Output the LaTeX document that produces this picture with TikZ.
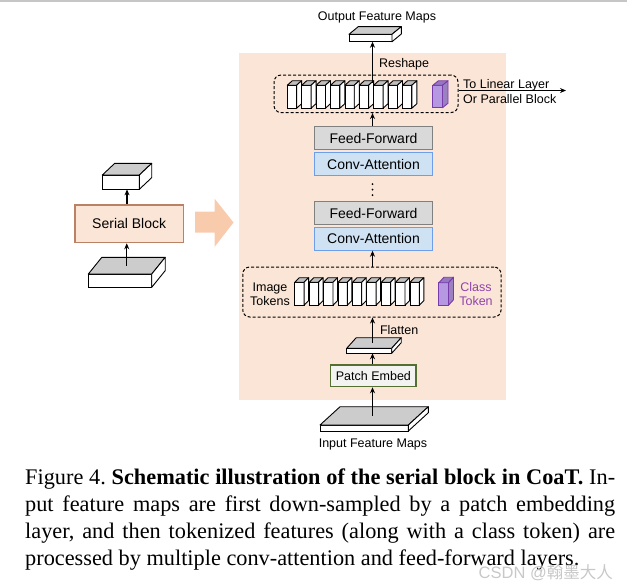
\documentclass[tikz,border=0pt]{standalone}
\usepackage{fontspec}
\setmainfont{Liberation Serif}
\newfontfamily\diafont{Liberation Sans}
\newfontfamily\cjkfont{Noto Sans CJK SC}
\usetikzlibrary{arrows.meta, positioning, calc}
\definecolor{peachbg}{RGB}{251,229,214}
\definecolor{bigarrow}{RGB}{248,203,173}
\definecolor{sbedge}{RGB}{185,130,100}
\definecolor{fffill}{RGB}{217,217,217}
\definecolor{ffedge}{RGB}{128,128,128}
\definecolor{cafill}{RGB}{207,226,243}
\definecolor{caedge}{RGB}{109,158,235}
\definecolor{pefill}{RGB}{243,243,241}
\definecolor{peedge}{RGB}{85,110,50}
\definecolor{slabgray}{RGB}{204,204,204}
\definecolor{tokgray}{RGB}{190,190,190}
\definecolor{clsfront}{RGB}{182,152,226}
\definecolor{clstop}{RGB}{150,120,192}
\definecolor{clsedge}{RGB}{120,60,170}
\definecolor{clstext}{RGB}{142,68,173}
\definecolor{wmgray}{RGB}{200,200,200}
% top and right faces of a box whose front face is a node
\newcommand{\boxfaces}[5]{%
  \draw[#4] (#1.north west) -- ++(#2,#3) -- ($(#1.north east)+(#2,#3)$) -- (#1.north east) -- cycle;
  \draw[#5] (#1.north east) -- ++(#2,#3) -- ($(#1.south east)+(#2,#3)$) -- (#1.south east) -- cycle;
  \coordinate (#1-top) at ($(#1.north)+(0.5*#2,0.5*#3)$);
}

\begin{document}
\begin{tikzpicture}[x=1pt, y=-1pt,
    lbl/.style={font=\diafont\fontsize{12.5}{14}\selectfont, inner sep=0pt},
    layer/.style={draw, line width=1.2pt, minimum width=118pt, minimum height=22.6pt, inner sep=0pt, font=\diafont\fontsize{14}{16}\selectfont},
    ffbox/.style={layer, fill=fffill, draw=ffedge},
    cabox/.style={layer, fill=cafill, draw=caedge},
    slabfront/.style={draw, fill=white, line width=0.9pt, inner sep=0pt, outer sep=0pt},
    slabtop/.style={draw, fill=slabgray, line width=0.9pt, line join=round},
    slabside/.style={draw, fill=white, line width=0.9pt, line join=round},
    token/.style={slabfront, minimum width=9.3pt, minimum height=23pt},
    tokentop/.style={draw, fill=tokgray, line width=0.9pt, line join=round},
    ctoken/.style={draw=clsedge, fill=clsfront, line width=0.9pt, inner sep=0pt, outer sep=0pt, minimum width=9.6pt, minimum height=22.5pt},
    ctop/.style={draw=clsedge, fill=clstop, line width=0.9pt, line join=round},
    cside/.style={draw=clsedge, fill=clsfront!85!black, line width=0.9pt, line join=round},
    tokbox/.style={draw, dash pattern=on 3pt off 2pt, line width=1pt, rounded corners=7pt, inner sep=0pt},
    arr/.style={-{Stealth[length=6pt,width=5pt]}, line width=1.1pt},
    ]
    \useasboundingbox (0,0) rectangle (627,587);

    % thin rule at the top
    \draw[gray!45, line width=1.5pt] (0,0.8) -- (627,0.8);

    % background panel of the serial block
    \fill[peachbg] (238.5,52.5) rectangle (506,400);

    % big arrow
    \fill[bigarrow] (195,211.5) -- (214.5,211.5) -- (214.5,198.5) -- (233.5,222.5)
        -- (214.5,247) -- (214.5,232.5) -- (195,232.5) -- cycle;

    % Serial block (left)
    \node[slabfront, minimum width=37pt, minimum height=14.3pt] (outcube) at (120.8,182.2) {};
    \boxfaces{outcube}{12.4}{-11.7}{slabtop}{slabside}
    \node[draw=sbedge, fill=peachbg, line width=1.2pt, minimum width=108.3pt, minimum height=37.7pt,
          inner sep=0pt, font=\diafont\fontsize{14}{16}\selectfont] (serial) at (129.2,223.8) {Serial Block};
    \node[slabfront, minimum width=63.4pt, minimum height=13.3pt] (incube) at (120,280.7) {};
    \boxfaces{incube}{13.5}{-16.7}{slabtop}{slabside}
    \draw[arr] (incube-top) -- (incube-top |- serial.south);
    \draw[arr] (serial.north -| outcube-top) -- (outcube-top |- outcube.south);

    % centre line of the right column
    \coordinate (spine) at (372.5,0);

    % output feature maps
    \node[lbl] (outlbl) at (377,17) {Output Feature Maps};
    \node[slabfront, minimum width=43pt, minimum height=7.4pt] (outslab) at (370.5,38) {};
    \boxfaces{outslab}{9.3}{-7.7}{slabtop}{slabside}

    % reshaped tokens (top)
    \node[tokbox, minimum width=184pt, minimum height=37.5pt] (topbox) at (366,93.8) {};
    \foreach \i in {0,...,8} {
        \node[token] (ta\i) at (292+14.4*\i,96.7) {};
        \boxfaces{ta\i}{5}{-4.5}{tokentop}{slabside}
    }
    \node[ctoken] (tacls) at (437.7,96.5) {};
    \boxfaces{tacls}{5.5}{-4.5}{ctop}{cside}
    \draw[arr] (spine |- ta5-top) -- node[lbl, right=6pt, pos=0.45] {Reshape} (spine |- outslab.south);
    \coordinate (tolin) at (566,90.5);
    \draw[arr] (topbox.east |- tolin) -- (tolin);
    \node[lbl, anchor=west, align=left, font=\diafont\fontsize{12.5}{15}\selectfont] (tolinlbl) at (463,91.5)
        {To Linear Layer\\Or Parallel Block};

    % conv-attention and feed-forward layers
    \node[ffbox] (ff1) at (373.5,138) {Feed-Forward};
    \node[cabox] (ca1) at (373.5,164) {Conv-Attention};
    \foreach \d in {184,189.5,195}
        \fill (372.5,\d) circle (1pt);
    \node[ffbox] (ff2) at (373.5,213) {Feed-Forward};
    \node[cabox] (ca2) at (373.5,238.8) {Conv-Attention};
    \draw[arr] (spine |- ff1.north) -- (spine |- topbox.south);

    % image tokens and class token (bottom)
    \node[tokbox, minimum width=258.3pt, minimum height=50pt] (lowbox) at (371.9,292) {};
    \node[lbl, align=center] (imglbl) at (270,294) {Image\\Tokens};
    \foreach \i in {0,...,8} {
        \node[token] (tb\i) at (299.5+14.4*\i,293.7) {};
        \boxfaces{tb\i}{4.5}{-4.5}{tokentop}{slabside}
    }
    \node[ctoken] (tbcls) at (443.7,294) {};
    \boxfaces{tbcls}{5}{-5.5}{ctop}{cside}
    \node[lbl, align=center, text=clstext] (clslbl) at (476,294) {Class\\Token};
    \draw[arr] (spine |- lowbox.north) -- (spine |- ca2.south);

    % patch embedding
    \node[slabfront, minimum width=45pt, minimum height=5pt] (flatslab) at (369.2,350.8) {};
    \boxfaces{flatslab}{9.5}{-10.6}{slabtop}{slabside}
    \draw[arr] (spine |- flatslab-top) -- node[lbl, right=7pt] {Flatten} (spine |- lowbox.south);
    \node[draw=peedge, fill=pefill, line width=1.2pt, minimum width=85.3pt, minimum height=21.7pt,
          inner sep=0pt, font=\diafont\fontsize{12.5}{14}\selectfont] (patch) at (373.4,375.8) {Patch Embed};
    \draw[arr] (spine |- patch.north) -- (spine |- flatslab.south);

    % input feature maps
    \node[slabfront, minimum width=88.3pt, minimum height=6pt] (inslab) at (364.2,428) {};
    \boxfaces{inslab}{20}{-18.3}{slabtop}{slabside}
    \draw[arr] (spine |- inslab-top) -- (spine |- patch.south);
    \node[lbl] (inlbl) at (373,444.5) {Input Feature Maps};

    % caption
    \node[anchor=north west, inner sep=0pt, text width=590pt, align=justify,
          font=\fontsize{22.3}{27}\selectfont\frenchspacing] (caption) at (25,469)
        {Figure 4. \textbf{Schematic illustration of the serial block in CoaT.} In-\linebreak
         put feature maps are first down-sampled by a patch embedding\linebreak
         layer, and then tokenized features (along with a class token) are\linebreak
         processed by multiple conv-attention and feed-forward layers.};

    % watermark
    \node[font=\diafont\fontsize{16.5}{16.5}\selectfont, text=wmgray, anchor=base east, inner sep=0pt] (wm) at (613,578)
        {CSDN @{\cjkfont 翰墨大人}};
\end{tikzpicture}
\end{document}
